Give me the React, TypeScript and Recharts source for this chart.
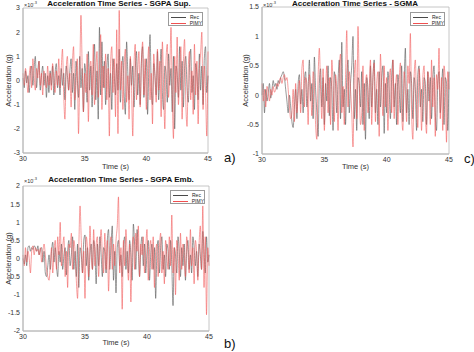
import React from "react";
import { LineChart, Line, XAxis, YAxis, Legend, ReferenceArea } from "recharts";

// values in units of 1e-3 g, sampled every 0.1 s from 30 s to 45 s
const TIME = Array.from({ length: 151 }, (_, i) => +(30 + i * 0.1).toFixed(1));
const X_TICKS = [30, 35, 40, 45];

const supRec = [
  0.1, -0.3, 0.4, -0.1, 0.2, -0.5, 0.3, 0.6, -0.2, 0.5,
  1.0, -0.3, 0.4, 0.8, -0.4, 0.2, 0.6, -0.2, 0.3, -0.7,
  0.2, -0.5, 0.4, -0.2, 0.6, -0.6, 0.3, 0.7, -0.3, 0.2,
  -0.6, 0.5, -0.2, 0.3, -0.8, 0.6, 0.2, -0.4, 0.4, 0.9,
  -0.5, 0.3, -1.2, 0.8, 0.1, -0.7, 1.0, -0.3, 0.5, -1.3,
  0.7, 0.2, -0.9, 1.2, -0.4, 0.6, -1.1, 0.3, 1.5, -0.8,
  0.4, -1.6, 2.2, -0.6, 1.6, -0.3, 0.8, -1.0, 0.5, 1.1,
  -0.7, 0.3, -1.2, 0.9, 0.2, -0.6, 0.7, -0.4, 1.3, -0.9,
  0.4, 1.0, -0.5, -1.4, 1.6, 0.3, -0.8, 0.9, -0.2, 0.6,
  -1.1, 0.4, 1.2, -0.6, 0.3, -1.0, 0.8, 1.4, -0.7, 0.2,
  0.9, -1.4, 0.5, 1.9, -0.3, -1.0, 0.7, 0.2, -0.6, 1.2,
  -0.8, 0.4, 1.3, -0.5, -1.2, 0.6, 0.3, -0.9, 1.1, -0.2,
  0.5, -1.3, 1.0, -2.0, 0.6, 0.3, -0.7, 1.4, -0.4, 0.8,
  -1.1, 0.5, 1.0, -0.3, -0.9, 0.6, 1.3, -0.5, 0.2, -1.2,
  0.7, 0.3, -0.8, 1.1, -0.4, 0.6, -1.0, 0.9, 1.4, -0.5,
  0.2,
];
const supPimy = [
  0.3, -0.2, 0.5, 0.1, -0.5, 0.2, 0.6, -0.3, 0.9, 0.2,
  -0.4, 0.5, 0.1, 0.8, -0.2, 0.3, -0.6, 0.4, 0.1, -0.3,
  0.6, -0.2, 0.3, -0.4, 0.7, 0.1, -0.5, 0.4, -0.2, 0.9,
  -0.3, 0.5, 1.3, -0.6, -1.6, 0.4, 1.0, -0.4, 0.3, -1.1,
  0.6, 1.4, -0.8, -0.2, 0.9, -2.2, 0.2, 2.7, 0.5, -1.3,
  0.3, -0.5, 1.1, -1.7, 0.4, 0.8, -0.6, 1.5, -1.0, 0.3,
  1.2, -0.7, 0.4, 1.9, -1.2, 0.6, -0.3, 1.1, -0.8, 0.5,
  -2.3, 0.7, 1.4, -0.5, 0.9, -1.5, 2.1, -2.2, 2.9, -0.4,
  0.8, -1.2, 0.6, 1.3, -0.9, 0.2, -1.6, 1.0, -0.3, -2.3,
  0.6, 1.5, -0.8, 0.4, 1.2, -1.1, 0.7, 1.6, -0.6, 0.9,
  -1.2, 0.5, 1.4, -0.8, 0.3, -1.8, 1.1, 0.2, -0.9, 1.3,
  -0.4, 0.8, -1.5, 1.6, -0.2, -2.0, 0.9, 1.5, -0.7, 0.4,
  2.2, -0.6, -2.4, 1.0, -0.5, 1.8, -1.0, 0.3, 1.4, -1.6,
  0.7, 1.7, -0.9, -1.9, 0.5, 1.2, -0.8, 0.4, -1.4, 1.5,
  -0.6, 0.8, -1.8, 0.5, 1.1, 2.0, -1.2, 0.6, -0.4, -2.3,
  1.2,
];

const sgmaRec = [
  0.0, 0.2, -0.3, 0.1, -0.1, 0.05, 0.2, -0.05, 0.1, 0.25,
  0.15, 0.2, 0.1, 0.25, 0.2, 0.3, 0.35, 0.4, 0.3, 0.1,
  -0.1, -0.3, 0.0, -0.2, -0.45, -0.55, -0.2, 0.1, -0.4, 0.2,
  0.35, -0.15, 0.1, -0.3, 0.25, 0.4, -0.2, 0.1, 0.6, -0.1,
  0.2, -0.4, 0.65, 0.1, -0.3, -0.7, 0.2, 0.45, -0.2, 0.3,
  -0.5, 0.2, -0.1, 0.5, -0.35, 0.3, 0.1, -0.6, 0.4, 0.2,
  -0.3, 0.25, 0.6, -0.4, 0.9, -0.2, 0.1, -0.5, 0.3, 0.6,
  -0.3, 0.2, 0.5, 1.0, -0.4, 0.1, -0.6, 0.3, 0.2, -0.2,
  0.4, -0.5, 0.2, -0.75, 0.3, 0.1, -0.4, 0.5, -0.2, 0.3,
  0.6, -0.3, 0.1, -0.5, 0.4, -0.2, 0.3, 0.5, -0.65, 0.2,
  -0.3, 0.4, 0.1, -0.4, 0.3, 0.6, -0.2, 0.2, -0.5, 0.35,
  0.1, -0.3, 0.5, -0.45, 0.2, 0.8, -0.3, 0.1, -0.5, 0.4,
  0.2, -0.4, 0.3, 0.1, -0.6, 0.35, 0.5, -0.2, 0.1, -0.45,
  0.3, 0.2, -0.5, 0.4, -0.1, 0.3, -0.4, 0.25, 0.5, -0.3,
  -0.6, 0.2, 0.4, -0.3, 0.1, 0.45, -0.5, 0.3, 0.2, -0.6,
  0.4,
];
const sgmaPimy = [
  0.2, -0.1, 0.1, -0.2, 0.15, 0.05, -0.1, 0.1, 0.0, 0.15,
  0.05, 0.1, 0.2, 0.15, 0.25, 0.3, 0.2, 0.3, 0.35, 0.25,
  0.3, 0.1, -0.2, -0.4, -0.3, 0.1, -0.45, 0.2, -0.3, 0.0,
  0.25, -0.3, 0.45, 0.6, -0.2, 0.3, 0.2, -0.5, 0.35, 0.1,
  -0.35, 0.4, 0.2, -0.5, -0.75, 0.3, 0.8, 0.1, -0.4, 0.45,
  -0.6, 0.1, 0.5, -0.3, 0.3, -0.5, 0.6, 0.2, -0.45, 0.35,
  0.1, -0.6, 0.4, 0.7, -0.3, 0.15, -0.5, 0.3, 1.1, -0.2,
  0.4, 0.1, -0.3, -0.88, 0.3, 0.6, -0.4, 1.17, 0.2, -0.5,
  -0.3, 0.5, -0.6, 0.2, 0.35, -0.3, 0.1, 0.6, -0.5, 0.3,
  0.55, -0.45, 0.2, 0.4, -0.7, 0.7, 0.1, -0.35, 0.5, -0.2,
  0.3, -0.6, 0.2, 0.45, -0.3, 0.6, -0.4, 0.1, 0.35, -0.5,
  0.2, 0.55, -0.3, -0.6, 0.4, 0.1, -0.45, 0.5, 0.2, 1.05,
  -0.3, -0.75, 0.3, 0.6, -0.2, -0.55, 0.45, 0.1, -0.6, 0.3,
  0.5, -0.3, -0.65, 0.4, 0.2, -0.5, 0.6, -0.2, 0.3, -0.7,
  0.35, 0.1, 0.8, -0.4, 0.3, -0.6, 0.5, 0.2, -0.8, 0.4,
  0.1,
];

const embRec = [
  0.0, -0.15, 0.1, -0.2, 0.3, 0.35, 0.2, 0.3, 0.25, 0.35,
  0.3, 0.2, 0.35, 0.1, 0.25, 0.3, -0.1, 0.2, -0.4, -0.5,
  -0.2, 0.1, -0.3, 0.2, 0.45, -0.1, 0.3, -0.2, -0.5, 0.2,
  -0.1, 0.4, -0.3, 0.1, 0.3, -0.45, 0.2, 0.5, -0.2, 0.1,
  0.6, -0.3, 0.2, -0.5, 0.4, -0.8, 0.3, 0.1, -0.4, 0.5,
  0.65, -0.2, 0.3, -0.6, 0.1, 0.4, -0.3, 0.5, 0.2, -0.7,
  0.4, -0.2, 0.6, 0.1, -0.5, 0.3, 0.2, -0.4, 0.5, 0.8,
  -0.3, 0.4, 0.9, -0.6, 0.2, -0.95, 0.3, 0.5, -0.2, 0.1,
  -0.5, 0.3, 0.6, -0.3, 0.2, -0.4, 0.5, 0.1, -0.6, 0.95,
  0.4, -0.3, 0.8, 0.2, -0.5, 0.3, 0.6, -0.2, 0.4, -0.4,
  0.2, 0.5, -0.6, 0.1, 0.4, -0.3, 0.3, -1.1, 0.2, 0.5,
  -0.4, 0.3, 0.6, -0.3, 0.1, -0.5, 0.4, 0.2, -0.3, 0.5,
  -0.2, -1.3, 0.3, 0.1, -0.4, 0.6, 0.2, -0.5, 0.3, -0.2,
  0.4, -0.6, 0.2, 0.5, -0.3, 0.1, -0.4, 0.6, 0.3, -0.2,
  0.2, -0.5, 0.4, 0.1, -0.3, 0.75, 0.2, -0.4, 0.6, -0.1,
  0.1,
];
const embPimy = [
  0.1, -0.2, 0.3, -0.1, 0.2, 0.0, -0.4, 0.2, 0.35, 0.1,
  0.3, 0.2, 0.25, 0.1, 0.3, -0.1, 0.2, 0.4, 0.1, -0.3,
  -0.5, -0.6, -0.2, 0.3, -0.4, 0.2, 0.5, -0.3, 0.6, 0.1,
  1.0, -0.2, 0.3, 0.6, -0.5, 0.2, -0.8, 0.4, 0.3, 0.7,
  -0.3, 0.5, 0.2, -0.6, -1.1, 0.3, 1.45, 0.5, -0.4, 0.2,
  -1.1, 0.6, 0.3, -0.5, 0.9, 0.1, -0.3, 0.8, -0.2, 0.4,
  0.6, -0.5, 0.3, 0.8, 0.1, -0.4, 0.7, -0.3, 0.5, -0.9,
  0.2, 0.6, -0.3, 0.4, -0.2, 0.5, 0.9, 1.7, -0.4, 0.3,
  -1.4, 0.5, -0.2, 0.8, 0.1, -0.6, 0.4, -1.2, 0.3, 0.6,
  -0.3, 0.7, 0.2, 0.9, -0.5, 0.4, 0.1, 0.6, -0.4, 0.3,
  0.8, -0.6, 0.2, 0.5, -0.3, 0.6, -0.8, 0.2, 0.4, -0.5,
  0.3, 0.7, -0.4, 0.2, -0.7, 0.5, 0.1, -0.3, 0.6, -0.2,
  1.2, -0.4, 0.3, -1.0, 0.5, 0.2, -0.6, 0.7, -0.3, 0.4,
  0.1, -0.5, 0.6, 0.2, -0.4, 0.8, -0.2, 0.3, -0.7, 0.5,
  0.2, -0.6, 0.4, 0.9, -0.3, 1.45, -0.8, 0.6, -1.55, 0.3,
  -0.2,
];

const REC_COLOR = "#4a4a4a";
const PIMY_COLOR = "#f05050";
const FONT = "'Liberation Sans', Arial, sans-serif";

function build(rec: number[], pimy: number[]) {
  return TIME.map((t, i) => ({ t, rec: rec[i], pimy: pimy[i] }));
}

function LegendBox() {
  const row = (color: string, name: string) => (
    <div style={{ display: "flex", alignItems: "center", height: 6 }}>
      <span style={{ width: 15, marginLeft: 2, marginRight: 4, borderTop: `0.8px solid ${color}` }} />
      <span>{name}</span>
    </div>
  );
  return (
    <div
      style={{
        width: 35,
        height: 14,
        border: "0.6px solid #9a9a9a",
        background: "#fff",
        fontSize: 5,
        lineHeight: "6px",
        color: "#222",
        fontFamily: FONT,
        paddingTop: 1,
        boxSizing: "border-box",
        textAlign: "left",
      }}
    >
      {row(REC_COLOR, "Rec")}
      {row(PIMY_COLOR, "PIMY")}
    </div>
  );
}

interface PanelProps {
  left: number;
  top: number;
  title: string;
  titleCenter: number;
  letter: string;
  letterLeft: number;
  letterTop: number;
  rec: number[];
  pimy: number[];
  domain: [number, number];
  yTicks: number[];
  margin: { top: number; right: number; left: number; bottom: number };
  yWidth: number;
  xHeight: number;
  legendLeft: number;
  legendTop: number;
}

function Panel(p: PanelProps) {
  const data = build(p.rec, p.pimy);
  const tickStyle = { fontSize: 7, fill: "#333", fontFamily: FONT };
  return (
    <div style={{ position: "absolute", left: p.left, top: p.top, width: 237, height: 176 }}>
      <LineChart width={237} height={176} data={data} margin={p.margin}>
        <XAxis
          dataKey="t"
          type="number"
          domain={[30, 45]}
          ticks={X_TICKS}
          height={p.xHeight}
          tickLine={false}
          tickSize={0}
          tickMargin={3}
          axisLine={{ stroke: "#b8b8b8" }}
          tick={tickStyle}
          label={{ value: "Time (s)", position: "insideBottom", offset: 7, fontSize: 7.5, fill: "#333", fontFamily: FONT }}
        />
        <YAxis
          type="number"
          domain={p.domain}
          ticks={p.yTicks}
          width={p.yWidth}
          tickLine={false}
          tickSize={0}
          tickMargin={3}
          axisLine={{ stroke: "#b8b8b8" }}
          tick={tickStyle}
          label={{
            value: "Acceleration (g)",
            angle: -90,
            position: "insideLeft",
            offset: 8,
            fontSize: 7.5,
            fill: "#333",
            fontFamily: FONT,
            style: { textAnchor: "middle" },
          }}
        />
        <ReferenceArea x1={30} x2={45} y1={p.domain[0]} y2={p.domain[1]} fill="none" stroke="#b8b8b8" strokeWidth={0.8} />
        <Line type="monotone" dataKey="rec" name="Rec" stroke={REC_COLOR} strokeWidth={0.7} strokeOpacity={0.8} dot={false} isAnimationActive={false} />
        <Line type="monotone" dataKey="pimy" name="PIMY" stroke={PIMY_COLOR} strokeWidth={0.7} strokeOpacity={0.8} dot={false} isAnimationActive={false} />
        <Legend
          layout="horizontal"
          verticalAlign="middle"
          align="center"
          content={() => <LegendBox />}
          wrapperStyle={{ left: p.legendLeft, top: p.legendTop, width: "auto", height: "auto" }}
        />
      </LineChart>
      <div
        style={{
          position: "absolute",
          left: p.titleCenter - 100,
          width: 200,
          top: -1,
          textAlign: "center",
          fontFamily: FONT,
          fontWeight: "bold",
          fontSize: 8,
          color: "#111",
          whiteSpace: "nowrap",
        }}
      >
        {p.title}
      </div>
      <div style={{ position: "absolute", left: p.margin.left + p.yWidth + 1, top: 0, fontFamily: FONT, fontSize: 5.5, color: "#333" }}>
        ×10<sup style={{ fontSize: 4 }}>-3</sup>
      </div>
      <div style={{ position: "absolute", left: p.letterLeft, top: p.letterTop, fontFamily: FONT, fontSize: 13, color: "#111", lineHeight: "13px" }}>
        {p.letter}
      </div>
    </div>
  );
}

export default function App() {
  return (
    <div style={{ position: "absolute", left: 0, top: 0, width: 474, height: 352, background: "#fff", overflow: "hidden" }}>
      <Panel
        left={0}
        top={0}
        title="Acceleration Time Series - SGPA Sup."
        titleCenter={119}
        letter="a)"
        letterLeft={224}
        letterTop={151}
        rec={supRec}
        pimy={supPimy}
        domain={[-3, 3]}
        yTicks={[-3, -2, -1, 0, 1, 2, 3]}
        margin={{ top: 8, right: 29, left: 0, bottom: 0 }}
        yWidth={23}
        xHeight={23}
        legendLeft={168}
        legendTop={12}
      />
      <Panel
        left={237}
        top={0}
        title="Acceleration Time Series - SGMA"
        titleCenter={118}
        letter="c)"
        letterLeft={227}
        letterTop={152}
        rec={sgmaRec}
        pimy={sgmaPimy}
        domain={[-1, 1.5]}
        yTicks={[-1, -0.5, 0, 0.5, 1, 1.5]}
        margin={{ top: 7, right: 25, left: 0, bottom: 0 }}
        yWidth={25}
        xHeight={22}
        legendLeft={173}
        legendTop={12}
      />
      <Panel
        left={0}
        top={176}
        title="Acceleration Time Series - SGPA Emb."
        titleCenter={121}
        letter="b)"
        letterLeft={224}
        letterTop={161}
        rec={embRec}
        pimy={embPimy}
        domain={[-2, 2]}
        yTicks={[-2, -1.5, -1, -0.5, 0, 0.5, 1, 1.5, 2]}
        margin={{ top: 10, right: 28, left: 0, bottom: 0 }}
        yWidth={23}
        xHeight={21}
        legendLeft={170}
        legendTop={14}
      />
    </div>
  );
}
